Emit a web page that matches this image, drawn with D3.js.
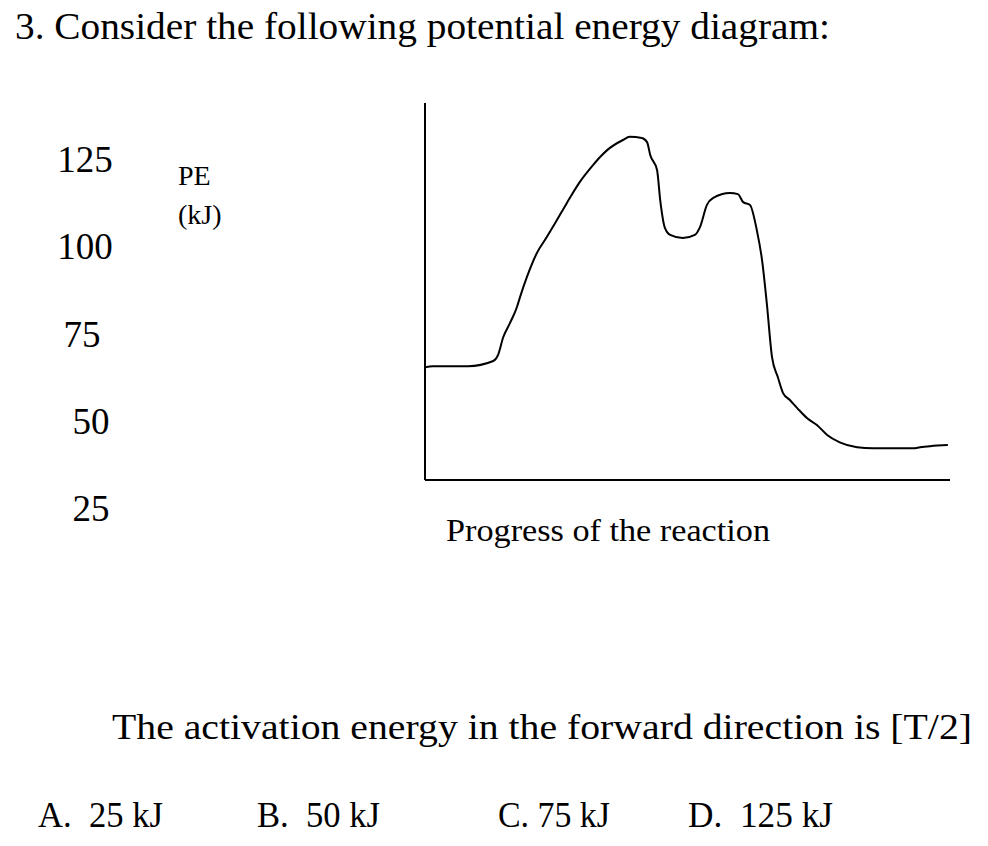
<!DOCTYPE html>
<html>
<head>
<meta charset="utf-8">
<script src="https://cdn.jsdelivr.net/npm/d3@7"></script>
<style>
  html, body { margin: 0; padding: 0; background: #fff; }
  text { font-family: "Liberation Serif", "DejaVu Serif", serif; fill: #000; white-space: pre; }
</style>
</head>
<body>
<div id="chart"></div>
<script>
// values
const progress = [0, 1.5, 8.2, 13.0, 13.9, 14.9, 16.2, 17.5, 18.1, 19.4, 21.3, 23.2, 24.8, 27.0, 29.5, 32.0, 33.4, 34.7, 37.7, 39.0,
  41.3, 42.3, 42.9, 44.2, 44.8, 45.7, 46.7, 49.1, 51.4, 52.4, 53.7, 54.9, 58.1, 59.6, 60.6, 61.9, 63.2, 64.2, 65.1,
  66.1, 67.2, 68.2, 69.5, 70.9, 72.8, 74.7, 76.6, 79.0, 82.3, 85.3, 93.0, 94.3, 96.2, 99.6];
const energy = [65.5, 65.8, 65.8, 67.3, 69.0, 74.1, 78.2, 82.7, 85.6, 91.3, 98.2, 102.8, 106.8, 112.5, 118.6, 123.4, 125.8, 127.7, 130.6, 131.5,
  131.2, 130.0, 126.3, 122.0, 113.4, 105.4, 103.4, 102.5, 103.4, 105.7, 112.0, 114.0, 115.4, 115.1, 112.8, 112.0, 104.8, 96.2, 83.9,
  68.4, 62.7, 58.1, 56.1, 53.8, 50.9, 48.9, 46.1, 44.0, 42.6, 42.3, 42.3, 42.6, 42.9, 43.2];
const tickValues = [125, 100, 75, 50, 25];
const tickLabels = ['125', '100', '75', '50', '25'];
const answers = ['A.  25 kJ', 'B.  50 kJ', 'C. 75 kJ', 'D.  125 kJ'];

const w = 988;
const h = 846;

const svg = d3.select('#chart').append('svg').attr('width', w).attr('height', h);

const xScale = d3.scaleLinear().domain([0, 100]).range([425, 950]);
const yScale = d3.scaleLinear().domain([33.2, 141.2]).range([480, 103]);

// title
svg.append('text').attr('x', 15).attr('y', 39).attr('font-size', 37)
   .attr('textLength', 815).attr('lengthAdjust', 'spacingAndGlyphs')
   .text('3. Consider the following potential energy diagram:');

// tick labels sit loosely left of the plot, a little out of line
const labelCenters = [85, 85, 82, 91, 91];
svg.selectAll('.tick-label')
   .data(tickValues)
   .enter()
   .append('text')
   .attr('class', 'tick-label')
   .attr('x', (d, i) => labelCenters[i])
   .attr('y', d => yScale(d) + 12.5)
   .attr('text-anchor', 'middle')
   .attr('font-size', 37)
   .text((d, i) => tickLabels[i]);

svg.append('text').attr('x', 178).attr('y', 185).attr('font-size', 28).text('PE');
svg.append('text').attr('x', 178).attr('y', 224).attr('font-size', 28).text('(kJ)');

// axes
svg.append('line')
   .attr('x1', xScale(0)).attr('x2', xScale(0))
   .attr('y1', yScale(141.2)).attr('y2', yScale(33.2))
   .attr('stroke', '#000').attr('stroke-width', 2);
svg.append('line')
   .attr('x1', xScale(0)).attr('x2', xScale(100))
   .attr('y1', yScale(33.2)).attr('y2', yScale(33.2))
   .attr('stroke', '#000').attr('stroke-width', 2);

// energy curve
const points = progress.map((p, i) => [p, energy[i]]);
const line = d3.line()
   .x(d => xScale(d[0]))
   .y(d => yScale(d[1]))
   .curve(d3.curveMonotoneX);

svg.append('path')
   .datum(points)
   .attr('d', line)
   .attr('fill', 'none')
   .attr('stroke', '#000')
   .attr('stroke-width', 2);

svg.append('text').attr('x', 446).attr('y', 541).attr('font-size', 32)
   .attr('textLength', 324).attr('lengthAdjust', 'spacingAndGlyphs')
   .text('Progress of the reaction');

svg.append('text').attr('x', 112).attr('y', 739).attr('font-size', 36)
   .attr('textLength', 860).attr('lengthAdjust', 'spacingAndGlyphs')
   .text('The activation energy in the forward direction is [T/2]');

const answerX = [38, 257, 498, 688];
const answerW = [125, 123, 112, 145];
svg.selectAll('.answer')
   .data(answers)
   .enter()
   .append('text')
   .attr('class', 'answer')
   .attr('x', (d, i) => answerX[i])
   .attr('y', 827)
   .attr('font-size', 36)
   .attr('textLength', (d, i) => answerW[i])
   .attr('lengthAdjust', 'spacingAndGlyphs')
   .text(d => d);
</script>
</body>
</html>
